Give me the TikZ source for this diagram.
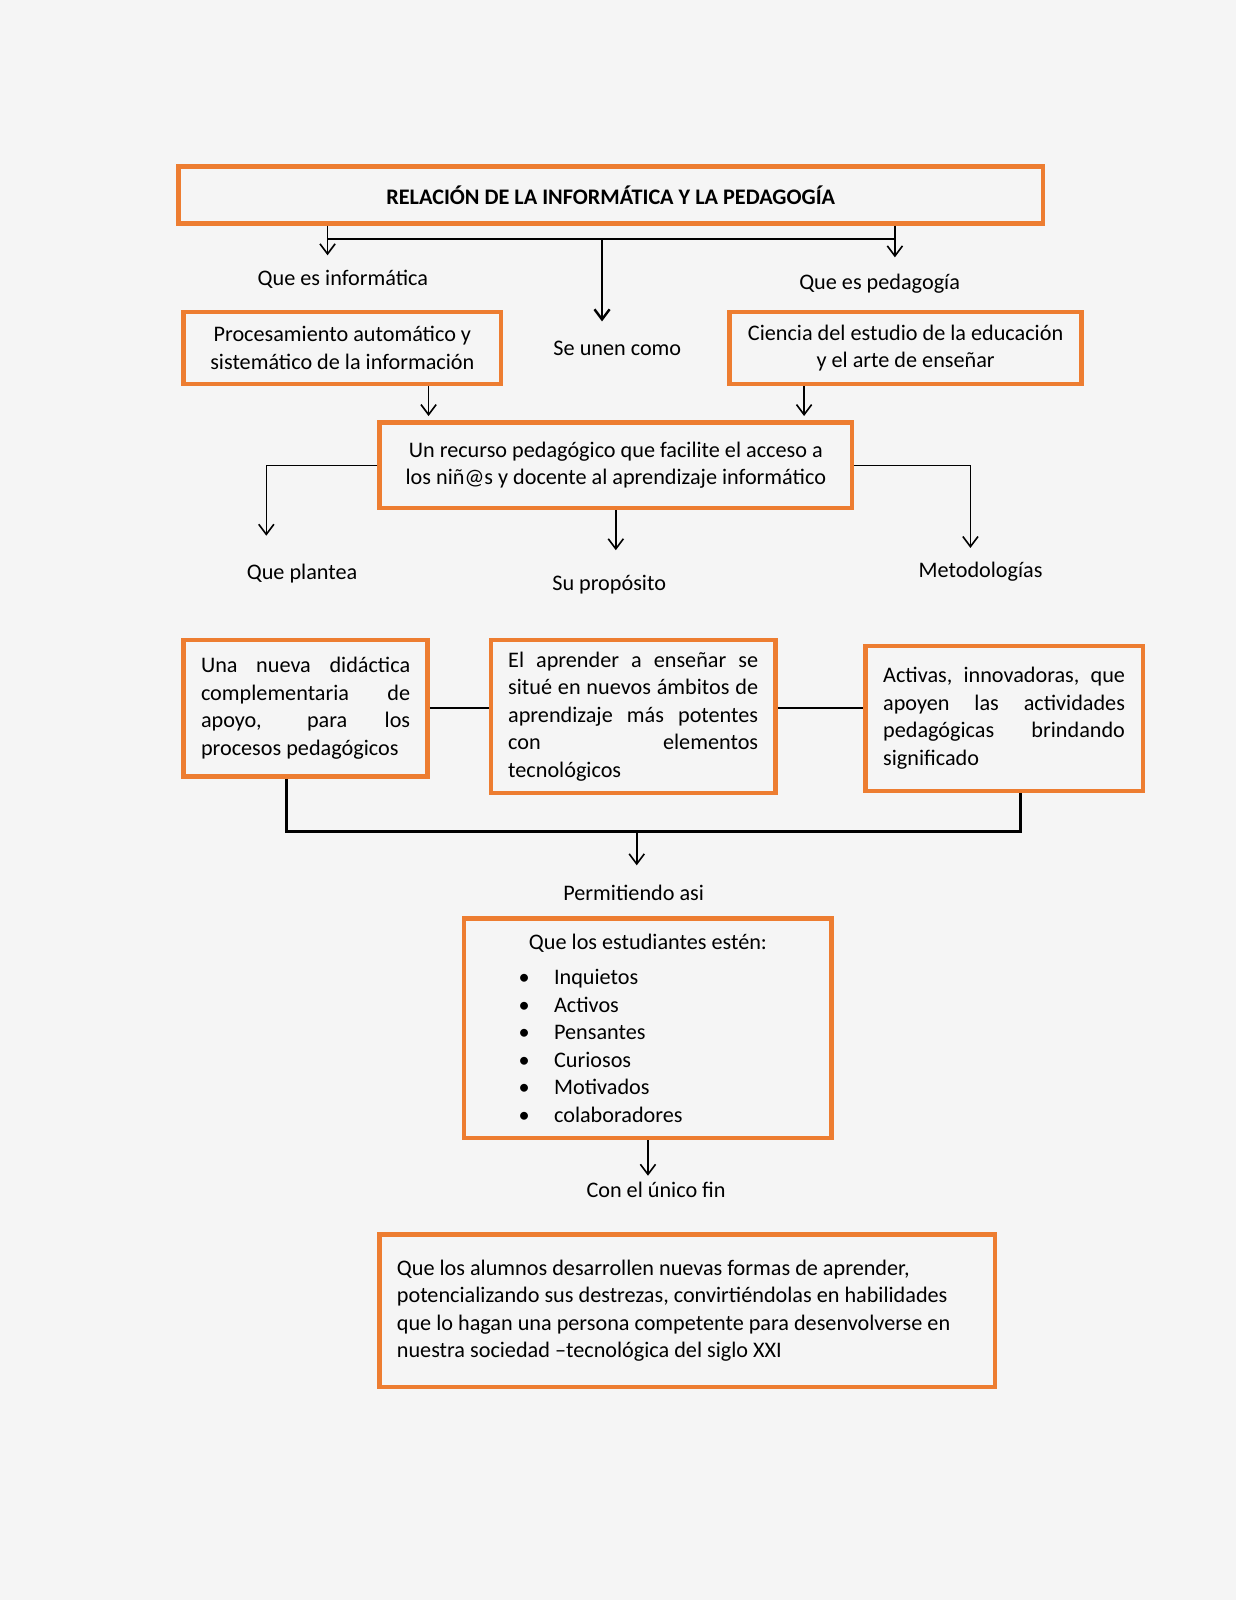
\documentclass[tikz,border=0pt]{standalone}
\usepackage{fontspec}
\setmainfont{Carlito}
\usetikzlibrary{arrows.meta}
\definecolor{arancio}{RGB}{237,125,49}
\definecolor{sfondo}{RGB}{245,245,245}
\newcommand{\testo}{\fontsize{11}{13.6}\selectfont}
\newcommand{\riga}[1]{\makebox[\hsize][s]{#1}\\}
\newcommand{\voce}[1]{\makebox[44.5pt][l]{\hspace*{27pt}•}#1}

\begin{document}
\begin{tikzpicture}[x=0.5054pt, y=-0.5054pt, font=\testo,
    box/.style={draw=arancio, line width=2.2pt},
    etich/.style={inner sep=0pt},
    linea/.style={line width=0.8pt},
    freccia/.style={linea, -{Straight Barb[length=5pt,width=7.5pt]}}]
    % Foglio
    \fill[sfondo] (0,0) rectangle (1211,1568);
    \useasboundingbox (0,0) rectangle (1211,1568);
    % Riquadri
    \node[box, minimum width=428.1pt, minimum height=28.3pt, font=\testo\bfseries] (titolo) at (598.5,191) {RELACIÓN DE LA INFORMÁTICA Y LA PEDAGOGÍA};
    \node[etich] (qinfo) at (336,274) {Que es informática};
    \node[etich] (qped) at (862,278) {Que es pedagogía};
    \node[box, minimum width=157.2pt, minimum height=35.9pt, align=center] (proc) at (335.5,341) {Procesamiento automático y\\sistemático de la información};
    \node[etich] (unen) at (605,341) {Se unen como};
    \node[box, minimum width=174.4pt, minimum height=35.9pt, align=center] (ciencia) at (887.5,341) {Ciencia del estudio de la educación\\y el arte de enseñar};
    \node[box, minimum width=234pt, minimum height=42.5pt, align=center] (recurso) at (603.5,456) {Un recurso pedagógico que facilite el acceso a\\los niñ@s y docente al aprendizaje informático};
    \node[etich] (plantea) at (296,562) {Que plantea};
    \node[etich] (proposito) at (597,573) {Su propósito};
    \node[etich] (metod) at (961,560) {Metodologías};
    \node[box, minimum width=120.8pt, minimum height=67.7pt, text width=103.6pt, align=flush left] (didactica) at (299.5,694) {\riga{Una nueva didáctica}\riga{complementaria de}\riga{apoyo, para los}procesos pedagógicos};
    \node[box, minimum width=141pt, minimum height=75.8pt, text width=123.8pt, align=flush left] (aprender) at (620.5,702) {\riga{El aprender a enseñar se}\riga{situé en nuevos ámbitos de}\riga{aprendizaje más potentes}\riga{con elementos}tecnológicos};
    \node[box, minimum width=137.5pt, minimum height=71.8pt, text width=119.8pt, align=flush left] (activas) at (984,704) {\riga{Activas, innovadoras, que}\riga{apoyen las actividades}\riga{pedagógicas brindando}significado};
    \node[etich] (permit) at (621,875) {Permitiendo asi};
    \node[box, minimum width=182pt, minimum height=108.7pt, text width=182pt, inner xsep=0pt, align=flush left] (estud) at (635,1007.5) {\makebox[\hsize]{Que los estudiantes estén:}\\[4pt]
        \voce{Inquietos}\\ \voce{Activos}\\ \voce{Pensantes}\\ \voce{Curiosos}\\ \voce{Motivados}\\ \voce{colaboradores}};
    \node[etich] (fin) at (643,1166) {Con el único fin};
    \node[box, minimum width=304.8pt, minimum height=75.3pt, text width=287.6pt, align=flush left] (alumnos) at (673.5,1284.5) {Que los alumnos desarrollen nuevas formas de aprender,\\potencializando sus destrezas, convirtiéndolas en habilidades\\que lo hagan una persona competente para desenvolverse en\\nuestra sociedad –tecnológica del siglo XXI};
    % Frecce
    \coordinate (ramoS) at (321,234);
    \coordinate (ramoD) at (877,234);
    \coordinate (ramoC) at (590,234);
    \draw[linea] (ramoS) -- (ramoD);
    \draw[freccia] (titolo.south -| ramoS) -- ++(0,29);
    \draw[freccia] (titolo.south -| ramoD) -- ++(0,31);
    \draw[freccia, line width=1.2pt] (ramoC) -- ++(0,81);
    \coordinate (frP) at (420,0);
    \coordinate (frC) at (788,0);
    \draw[freccia] (proc.south -| frP) -- ++(0,29);
    \draw[freccia] (ciencia.south -| frC) -- ++(0,29);
    \coordinate (piedeS) at (261,525);
    \coordinate (piedeD) at (951,537);
    \draw[freccia] (recurso.west) -| (piedeS);
    \draw[freccia] (recurso.east) -| (piedeD);
    \draw[freccia] (recurso.south) -- ++(0,39);
    \draw[linea] (didactica.east) -- (didactica.east -| aprender.west);
    \draw[linea] (didactica.east -| aprender.east) -- (didactica.east -| activas.west);
    \coordinate (unS) at (281,815);
    \coordinate (unD) at (1000,815);
    \coordinate (unC) at (624,815);
    \draw[linea, line width=1.4pt] (didactica.south -| unS) -- (unS) -- (unD) -- (activas.south -| unD);
    \draw[freccia] (unC) -- ++(0,33);
    \draw[freccia] (estud.south) -- ++(0,35);
\end{tikzpicture}
\end{document}
